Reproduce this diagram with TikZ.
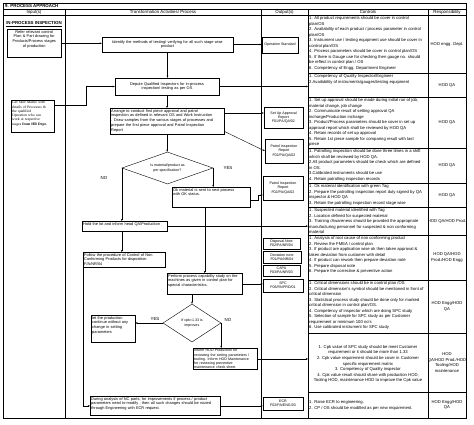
\documentclass[tikz,border=0pt]{standalone}
\usepackage{fontspec}
\setmainfont{Liberation Sans}
\newfontfamily\seriffont{Liberation Serif}
\usetikzlibrary{arrows.meta,shapes.geometric}
\newcommand\hfont{\fontsize{4.4}{5}\selectfont}
\newcommand\bfont{\fontsize{3.9}{4.8}\selectfont}
\newcommand\ofont{\fontsize{3.6}{4.2}\selectfont}
\newcommand\cfont{\fontsize{4.2}{5.55}\selectfont}
\newcommand\sfnt{\seriffont\fontsize{3.7}{4.3}\selectfont}
\newcommand\gap[1]{\rule[-#1pt]{0pt}{0pt}}
\tikzset{
  >={Stealth[length=2.2pt,width=1.8pt]},
  flow/.style={draw, anchor=north west, font=\bfont, align=left, inner sep=1pt},
  cflow/.style={draw, font=\bfont, align=center, inner sep=1pt},
  outbox/.style={draw, font=\ofont, align=center, inner sep=0.5pt},
  ctrl/.style={anchor=north west, font=\cfont, align=left, inner sep=1pt},
  resp/.style={font=\cfont, align=center, inner sep=0pt},
  decide/.style={draw, diamond, font=\ofont, align=center, inner sep=0pt, aspect=2.5},
  lab/.style={font=\hfont, inner sep=0pt},
  thinline/.style={line width=0.4pt},
  thickline/.style={line width=0.9pt}
}
\begin{document}
\begin{tikzpicture}[x=1pt,y=-1pt]
\useasboundingbox (0,0) rectangle (474,425);
% table frame
\draw[thickline] (3,3) rectangle (466,418);
\draw[thinline] (3,9) -- (466,9);
\draw[thinline] (3,15) -- (466,15);
\draw[thickline] (65,9) -- (65,418);
\draw[thickline] (261,9) -- (261,418);
\draw[thinline] (308,9) -- (308,418);
\draw[thinline] (428,9) -- (428,418);
\foreach \y in {73,97,148,183,207,235,280,333,392}
  \draw[thinline] (308,\y) -- (466,\y);
\coordinate (ctrlcol) at (308,0);

% headings
\node[lab, anchor=west, font=\hfont\bfseries] (title) at (5,6) {9. PROCESS APPROACH};
\node[lab] (hin) at (34,12) {Input(s)};
\node[lab] (htrans) at (163,12) {Transformation Activities/ Process};
\node[lab] (hout) at (284.5,12) {Output(s)};
\node[lab] (hctrl) at (368,12) {Controls};
\node[lab] (hresp) at (447,12) {Responsibility};
\node[lab, font=\hfont\bfseries] (inproc) at (34,24) {\underline{IN-PROCESS INSPECTION}};

% inputs
\node[flow, align=center, text width=52pt] (refer) at (7,29) {Refer relevant control\\Plan \& Part drawing for\\Products/Process stages\\of production\gap{9}};
\node[flow, font=\sfnt, text width=41pt] (skill) at (11,100) {Get Skill Matrix with\\details of Processes \&\\the qualified\\Operation who can\\work at respective\\stages \textbf{from HR Dept.}\gap{6}};

% transformation
\node[cflow, text width=129pt, minimum height=15pt] (identify) at (167.5,44.5) {Identify the methods of testing/ verifying for all such stage wise\\product};
\node[cflow, text width=102pt, minimum height=17pt] (depute) at (167,86.5) {Depute Qualified Inspectors for in-process\\inspection/ testing as per OS};
\node[flow, text width=112pt] (arrange) at (110,108) {Arrange to conduct first piece approval and patrol\\inspection as defined in relevant OS and Work Instruction\\. Draw samples from the various stages of processes and\\prepare the first piece approval and Patrol Inspection\\Report\gap{2}};
\node[decide, minimum width=91pt, minimum height=32pt] (spec) at (167.5,168) {Is material/product as\\per specification?};
\node[flow, text width=76pt] (okmat) at (172,187) {Ok material is sent to next process\\with OK status.\gap{10}};
\node[flow, text width=83pt] (hold) at (82,221) {Hold the lot and inform head QA/Production\gap{5}};
\node[flow, text width=80pt] (follow) at (83,252) {Follow the procedure of Control of Non\\Conforming Products for disposition\\F/A/NR/04\gap{1}};
\node[flow, text width=73pt] (perform) at (167,273) {Perform process capability study on the\\machines as given in control plan for\\special characteristics.\gap{7}};
\node[decide, minimum width=58pt, minimum height=38pt] (cpk) at (192,323) {If cpk<1.33 is\\improves};
\node[flow, text width=42pt] (letprod) at (91,315) {let the production\\continue without any\\change in setting\\parameters\gap{8}};
\node[flow, font=\ofont, text width=62pt] (inform) at (193,348) {Inform HOD Production for\\reviewing the setting parameters /\\tooling. Inform HOD Maintenance\\for reviewing preventive\\maintenance check sheet.};
\node[flow, text width=128pt] (during) at (90,396) {During analysis of NC parts, for improvements if process / product\\parameters need to modify , then all such changes should be routed\\through Engineering with ECR request.\gap{5}};
\node[lab] (yes1) at (228,168) {YES};
\node[lab] (no1) at (104,178) {NO};
\node[lab] (yes2) at (155,319) {YES};
\node[lab] (no2) at (228,320) {NO};

% outputs
\node[outbox, minimum width=36pt, minimum height=16pt] (opstd) at (280,45) {Operation Standard};
\node[outbox, minimum width=39pt, minimum height=21pt] (setup) at (283.5,117.5) {Set Up Approval\\Report\\F01/PA/QA/02};
\node[outbox, minimum width=38pt, minimum height=24pt] (patrolA) at (284,151) {Patrol Inspection\\Report\\F02/PA/QA/02};
\node[outbox, minimum width=40pt, minimum height=24pt] (patrolB) at (283,188) {Patrol Inspection\\Report\\F02/PA/QA/02};
\node[outbox, minimum width=37pt, minimum height=11pt] (disposal) at (281.5,243.5) {Disposal Note\\F02/PA/NR/04};
\node[outbox, minimum width=38pt, minimum height=12pt] (deviation) at (282,257) {Deviation note\\F01/PA/NR/04};
\node[outbox, minimum width=37pt, minimum height=11pt] (capa) at (281.5,270.5) {CAPA\\F03/PA/NR/03};
\node[outbox, minimum width=40pt, minimum height=13pt] (spc) at (283,285.5) {SPC\\F06/PA/PRD/01};
\node[outbox, minimum width=40pt, minimum height=13pt] (ecr) at (283,403.5) {ECR\\F02/PA/ENG/03};

% controls
\node[ctrl] (c1) at (308,15.3) {1. All product requirements should be cover in control\\plan/OS\\2. Availability of each product / process parameter in  control\\plan/OS\\3. Instrument use / testing equipment use should be cover in\\control plan/OS\\4. Process parameters should be cover in control plan/OS\\5. If there is Gauge use for checking then gauge no. should\\be reflect in control plan / OS\\6. Competency of Engg. Department Engineer};
\node[ctrl] (c2) at (308,73.3) {1. Competency of Quality Inspector/Engineer\\2.Availability of instruments/gauges/testing equipment};
\node[ctrl] (c3) at (308,97.3) {1. Set up approval should be made during initial run of job,\\material change, job change\\2. Communicate result of setting approval QA\\incharge/Production incharge\\3. Product/Process parameters should be cover in set up\\approval report which shall be reviewed by HOD QA\\4. Retain records of set up approval\\5. Retain 1st piece sample for comparing result with last\\piece};
\node[ctrl] (c4) at (308,148.3) {1. Patrolling inspection should be done three times in a shift\\which shall be reviewed by HOD QA.\\2.All product parameters should be check which are defined\\in OS.\\3.Calibrated instruments should be use\\4. Retain patrolling inspection records};
\node[ctrl] (c5) at (308,183.3) {1. Ok material identification with green Tag\\2. Prepare the patrolling inspection report duly signed by QA\\inspector \& HOD QA\\3. Retain the patrolling inspection record stage wise};
\node[ctrl] (c6) at (308,207.3) {1. Suspected material identified with Tag\\2. Location defined for suspected material\\3. Training /Awareness should be provided the appropriate\\manufacturing personnel for suspected \& non conforming\\material};
\node[ctrl] (c7) at (308,235.3) {1. Analysis of root cause of non conforming product\\2. Review the FMEA / control plan\\3. If product are application wise ok then taken approval \&\\taken deviation from customer with detail\\4. If product can rework then prepare deviation note\\5. Prepare disposal note\\6. Prepare the corrective \& preventive action};
\node[ctrl] (c8) at (308,280.3) {1. Critical dimensions should be in control plan /OS\\2. Critical dimension's symbol should be mentioned in front of\\critical dimension\\3. Statistical process study should be done only for marked\\critical dimension in control plan/OS.\\4. Competency of inspector which are doing SPC study\\5. Selection of sample for SPC study as per Customer\\requirement or minimum 100 no's\\6. Use calibrated instrument for SPC study};
\node[ctrl, anchor=center, align=center] (c9) at (368,364) {1. Cpk value of SPC study should be meet Customer\\requirement or it should be more than 1.33\\2. Cpk value requirement should be cover in Customer\\specific requirement matrix\\3. Competency of Quality inspector\\4. Cpk value result should share with production HOD,\\Tooling HOD, maintenance HOD to improve the Cpk value};
\node[ctrl, anchor=west] (c10) at (308,405.5) {1. Raise ECR to engineering.\\2. CP / OS should be modified as per new requirement.};

% responsibility
\node[resp] (r1) at (447,44) {HOD engg. Dept.};
\node[resp] (r2) at (447,85) {HOD QA};
\node[resp] (r3) at (447,122.5) {HOD QA};
\node[resp] (r4) at (447,165.5) {HOD QA};
\node[resp] (r5) at (447,195) {HOD QA};
\node[resp] (r6) at (447,221) {HOD QA/HOD Prod.};
\node[resp] (r7) at (447,257.5) {HOD QA/HOD\\Prod./HOD Engg};
\node[resp] (r8) at (447,306.5) {HOD Engg/HOD\\QA};
\node[resp] (r9) at (447,362.5) {HOD\\QA/HOD Prod./HOD\\Tooling/HOD\\maintenance};
\node[resp] (r10) at (447,405) {HOD Engg/HOD\\QA};

% connectors
\draw[->] (refer.east) -- (refer.east -| identify.west);
\draw[->] (identify.east) -- (identify.east -| opstd.west);
\draw[->] (identify.south) -- (identify.south |- depute.north);
\draw[->] ([yshift=11pt]skill.east) -- ++(32,0) |- (depute.west);
\draw[->] (depute.east) -- (depute.east -| ctrlcol);
\draw[->] (depute.south) -- (depute.south |- arrange.north);
\draw[->] ([yshift=-5pt]arrange.north east) -- ([yshift=-5pt]arrange.north east -| setup.west);
\draw[->] ([yshift=3pt]arrange.south east) -- (patrolA.west);
\draw[->] (arrange.south) -- (arrange.south |- spec.north);
\draw[->] (spec.east) -- (spec.east |- okmat.north);
\draw[->] (spec.west) -- (spec.west |- hold.north);
\draw[->] ([yshift=-3pt]okmat.east) -- ++(8,0) |- ([yshift=-7pt]patrolB.west);
\draw[->] (hold.east) -- (hold.east -| ctrlcol);
\draw[->] (spec.west |- hold.south) -- (spec.west |- follow.north);
\draw[->] (follow.south west) |- (during.west);
\draw[->] (perform.north |- okmat.south) -- (perform.north);
\draw[->] (perform.east) -- (perform.east -| spc.west);
\draw[->] (cpk.north |- perform.south) -- (cpk.north);
\draw[->] (cpk.west) -- (cpk.west -| letprod.east);
\draw[->] (cpk.east) -- (cpk.east |- inform.north);
\draw[->] (inform.east) -- (inform.east -| ctrlcol);
\draw[->] (during.east) -- (during.east -| ecr.west);
\end{tikzpicture}
\end{document}
